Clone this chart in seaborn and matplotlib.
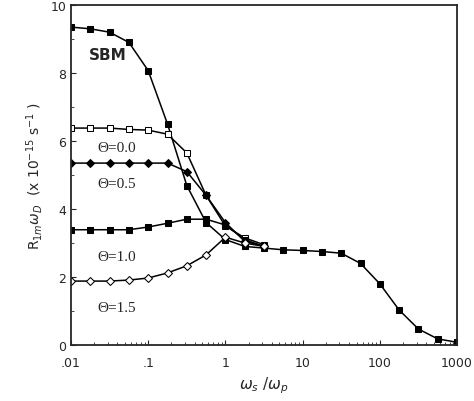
import numpy as np
import matplotlib
matplotlib.use("Agg")
import matplotlib.pyplot as plt
import seaborn as sns
import pandas as pd
from matplotlib.ticker import FixedLocator, LogLocator, NullFormatter

x = 10 ** (np.arange(21) / 4 - 2)
sbm = [9.35, 9.3, 9.2, 8.9, 8.07, 6.5, 4.69, 3.6, 3.1, 2.9, 2.85, 2.8, 2.78, 2.75, 2.7, 2.4, 1.8, 1.03, 0.47, 0.18, 0.08]
t00 = [6.38, 6.38, 6.38, 6.34, 6.32, 6.2, 5.65, 4.4, 3.5, 3.15, 2.95]
t05 = [5.35, 5.35, 5.35, 5.35, 5.35, 5.35, 5.1, 4.4, 3.6, 3.05, 2.9]
t10 = [3.39, 3.39, 3.39, 3.39, 3.47, 3.58, 3.7, 3.7, 3.53, 3.1, 2.9]
t15 = [1.88, 1.88, 1.88, 1.91, 1.97, 2.12, 2.33, 2.65, 3.17, 3.0, 2.9]

sns.set_style("ticks")
fig = plt.figure(figsize=(4.74, 4.02), dpi=100)
ax = fig.add_axes([71/474, 1-346/402, 386/474, 340/402])
styles = [(sbm, 's', 'black'), (t00, 's', 'white'), (t05, 'D', 'black'), (t10, 's', 'black'), (t15, 'D', 'white')]
for ys, m, fc in styles:
    df = pd.DataFrame({'x': x[:len(ys)], 'y': ys})
    sns.lineplot(data=df, x='x', y='y', ax=ax, color='black', lw=1.1,
                 marker=m, markersize=5 if m == 's' else 4, markerfacecolor=fc, markeredgecolor='black')
ax.set_xscale('log')
ax.set_xlim(0.01, 1000)
ax.set_ylim(0, 10)
ax.set_xticks([0.01, 0.1, 1, 10, 100, 1000])
ax.set_xticklabels(['.01', '.1', '1', '10', '100', '1000'])
ax.xaxis.set_minor_locator(LogLocator(subs=np.arange(2, 10)))
ax.xaxis.set_minor_formatter(NullFormatter())
ax.set_yticks([0, 2, 4, 6, 8, 10])
ax.yaxis.set_minor_locator(FixedLocator([1, 3, 5, 7, 9]))
ax.tick_params(direction='in', which='both', labelsize=9)
ax.tick_params(axis='x', pad=8)
for s in ax.spines.values():
    s.set_visible(True); s.set_linewidth(1.3)
ax.set_xlabel(r'$\omega_s$ /$\omega_p$', fontsize=11, labelpad=4)
ax.set_ylabel(r'R$_{1m}\omega_D$  (x 10$^{-15}$ s$^{-1}$ )', fontsize=10)
ax.text(0.017, 8.4, 'SBM', fontsize=11, fontweight='bold')
for yy, lab in [(5.7, '0.0'), (4.65, '0.5'), (2.5, '1.0'), (1.0, '1.5')]:
    ax.text(0.022, yy, 'Θ=' + lab, fontsize=11, family='Liberation Serif')
fig.savefig('out.png', dpi=100)
